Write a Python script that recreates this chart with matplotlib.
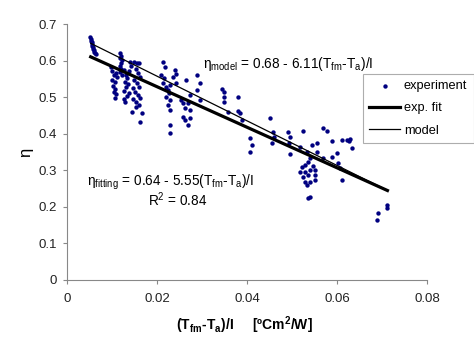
import matplotlib
matplotlib.use("Agg")
import matplotlib.pyplot as plt
import numpy as np

plt.rcParams['font.family'] = ['Liberation Sans', 'DejaVu Sans']
plt.rcParams['mathtext.fontset'] = 'custom'
plt.rcParams['mathtext.rm'] = 'Liberation Sans'
plt.rcParams['mathtext.it'] = 'Liberation Sans:italic'
plt.rcParams['mathtext.bf'] = 'Liberation Sans:bold'

# experiment points (x = (Tfm-Ta)/I, y = efficiency)
x_exp = [
    # cluster near 0.005
    0.0052, 0.0053, 0.0054, 0.0055, 0.0056, 0.0055, 0.0057, 0.0058, 0.0060, 0.0061, 0.0062, 0.0064,
    # cluster near 0.013
    0.0119, 0.0121, 0.0118, 0.0122, 0.0120, 0.0117, 0.0121, 0.0119, 0.0123,
    0.0098, 0.0101, 0.0104, 0.0100, 0.0106, 0.0103, 0.0108, 0.0105, 0.0110, 0.0107, 0.0112, 0.0110,
    0.0128, 0.0131, 0.0134, 0.0129, 0.0136, 0.0132, 0.0127, 0.0138, 0.0133, 0.0126, 0.0130, 0.0140, 0.0142, 0.0139,
    0.0150, 0.0156, 0.0161, 0.0153, 0.0159, 0.0163, 0.0149, 0.0155, 0.0160, 0.0146, 0.0152, 0.0158, 0.0163,
    0.0148, 0.0154, 0.0160, 0.0153, 0.0167, 0.0162, 0.0144,
    # cluster near 0.024
    0.0213, 0.0218, 0.0209, 0.0240, 0.0242, 0.0290, 0.0264, 0.0213, 0.0230, 0.0242, 0.0296, 0.0290,
    0.0224, 0.0273, 0.0296, 0.0220, 0.0229, 0.0253, 0.0224, 0.0258, 0.0269, 0.0229, 0.0262, 0.0273,
    0.0258, 0.0262, 0.0273, 0.0269, 0.0229, 0.0230, 0.0216, 0.0226, 0.0236, 0.0221,
    # cluster near 0.04
    0.0349, 0.0350, 0.0349, 0.0380, 0.0380, 0.0384, 0.0358, 0.0389, 0.0451, 0.0407, 0.0411, 0.0407,
    0.0458, 0.0460, 0.0456, 0.0491, 0.0496, 0.0493, 0.0496, 0.0345,
    # cluster near 0.055
    0.0524, 0.0569, 0.0578, 0.0589, 0.0611, 0.0622, 0.0629, 0.0633, 0.0518, 0.0544, 0.0556, 0.0533,
    0.0556, 0.0569, 0.0589, 0.0600, 0.0602, 0.0607, 0.0611, 0.0522, 0.0529, 0.0536, 0.0540, 0.0518,
    0.0529, 0.0540, 0.0551, 0.0524, 0.0536, 0.0551, 0.0529, 0.0540, 0.0551, 0.0533, 0.0540, 0.0536,
    0.0626, 0.0546,
    # cluster near 0.07
    0.0711, 0.0711, 0.0691, 0.0689,
]
y_exp = [
    0.665, 0.659, 0.655, 0.650, 0.646, 0.641, 0.637, 0.633, 0.629, 0.625, 0.621, 0.618,
    0.621, 0.614, 0.607, 0.601, 0.594, 0.586, 0.578, 0.568, 0.560,
    0.583, 0.571, 0.560, 0.548, 0.541, 0.532, 0.523, 0.515, 0.508, 0.498, 0.556, 0.567,
    0.575, 0.560, 0.552, 0.542, 0.535, 0.527, 0.518, 0.512, 0.503, 0.495, 0.487, 0.597, 0.585, 0.572,
    0.597, 0.595, 0.593, 0.578, 0.566, 0.555, 0.548, 0.538, 0.528, 0.525, 0.515, 0.506, 0.498,
    0.496, 0.487, 0.478, 0.472, 0.457, 0.433, 0.460,
    0.597, 0.584, 0.562, 0.575, 0.564, 0.562, 0.548, 0.540, 0.534, 0.540, 0.540, 0.520,
    0.520, 0.507, 0.493, 0.501, 0.493, 0.493, 0.479, 0.485, 0.485, 0.466, 0.471, 0.466,
    0.447, 0.438, 0.444, 0.425, 0.425, 0.403, 0.553, 0.512, 0.556, 0.528,
    0.515, 0.501, 0.488, 0.501, 0.463, 0.458, 0.460, 0.438, 0.444, 0.389, 0.370, 0.350,
    0.405, 0.392, 0.375, 0.405, 0.392, 0.375, 0.345, 0.523,
    0.408, 0.416, 0.408, 0.381, 0.384, 0.384, 0.386, 0.362, 0.364, 0.370, 0.375, 0.351,
    0.351, 0.334, 0.337, 0.348, 0.321, 0.307, 0.274, 0.310, 0.315, 0.323, 0.334, 0.296,
    0.296, 0.301, 0.301, 0.282, 0.288, 0.288, 0.268, 0.268, 0.274, 0.260, 0.227, 0.225,
    0.380, 0.312,
    0.205, 0.197, 0.183, 0.164,
]

# fitted / model line coefficients and range
fit_a, fit_b = 0.64, 5.55
model_a, model_b = 0.68, 6.11
line_x = [0.0053, 0.0712]

x_ticks = [0, 0.02, 0.04, 0.06, 0.08]
x_ticklabels = ['0', '0.02', '0.04', '0.06', '0.08']
y_ticks = [0, 0.1, 0.2, 0.3, 0.4, 0.5, 0.6, 0.7]
y_ticklabels = ['0', '0.1', '0.2', '0.3', '0.4', '0.5', '0.6', '0.7']

fig = plt.figure(figsize=(4.74, 3.5), dpi=100)
ax = fig.add_axes([0.141, 0.2, 0.760, 0.731])

lx = np.array(line_x)
ax.scatter(x_exp, y_exp, s=10, color='#000080', zorder=3, label='experiment', linewidths=0)
ax.plot(lx, fit_a - fit_b * lx, color='black', lw=2.3, zorder=4, label='exp. fit')
ax.plot(lx, model_a - model_b * lx, color='black', lw=0.9, zorder=4, label='model')

ax.set_xlim(0, 0.08)
ax.set_ylim(0, 0.7)
ax.set_xticks(x_ticks)
ax.set_xticklabels(x_ticklabels)
ax.set_yticks(y_ticks)
ax.set_yticklabels(y_ticklabels)
for s in ['top', 'right']:
    ax.spines[s].set_visible(False)
for s in ['left', 'bottom']:
    ax.spines[s].set_color('#888888')
    ax.spines[s].set_linewidth(0.8)
ax.tick_params(axis='both', direction='out', length=3, width=0.8, color='#888888',
               labelsize=9.5, labelcolor='#222222')
ax.tick_params(axis='x', pad=6)
ax.tick_params(axis='y', pad=4)

ax.set_ylabel('η', fontsize=12, labelpad=4)
fig.text(0.515, 0.057,
         r'(T$_{\mathbf{fm}}$-T$_{\mathbf{a}}$)/I     [ºCm$^{\mathbf{2}}$/W]',
         ha='center', va='baseline', fontsize=10, fontweight='bold')

ax.text(0.0303, 0.58,
        r'η$_{\mathrm{model}}$ = 0.68 - 6.11(T$_{\mathrm{fm}}$-T$_{\mathrm{a}}$)/I',
        fontsize=9.8, ha='left', va='baseline')
ax.text(0.0045, 0.258,
        r'η$_{\mathrm{fitting}}$ = 0.64 - 5.55(T$_{\mathrm{fm}}$-T$_{\mathrm{a}}$)/I',
        fontsize=9.8, ha='left', va='baseline')
ax.text(0.0181, 0.202, r'R$^{2}$ = 0.84', fontsize=9.8, ha='left', va='baseline')

leg = ax.legend(loc='upper left', bbox_to_anchor=(0.766, 0.789),
                bbox_transform=fig.transFigure, frameon=True, fancybox=False,
                edgecolor='#999999', fontsize=9.2, handlelength=2.4, handletextpad=0.3,
                borderpad=0.5, labelspacing=0.8, borderaxespad=0, scatterpoints=1)
leg.get_frame().set_linewidth(0.8)

fig.savefig('out.png', dpi=100)
